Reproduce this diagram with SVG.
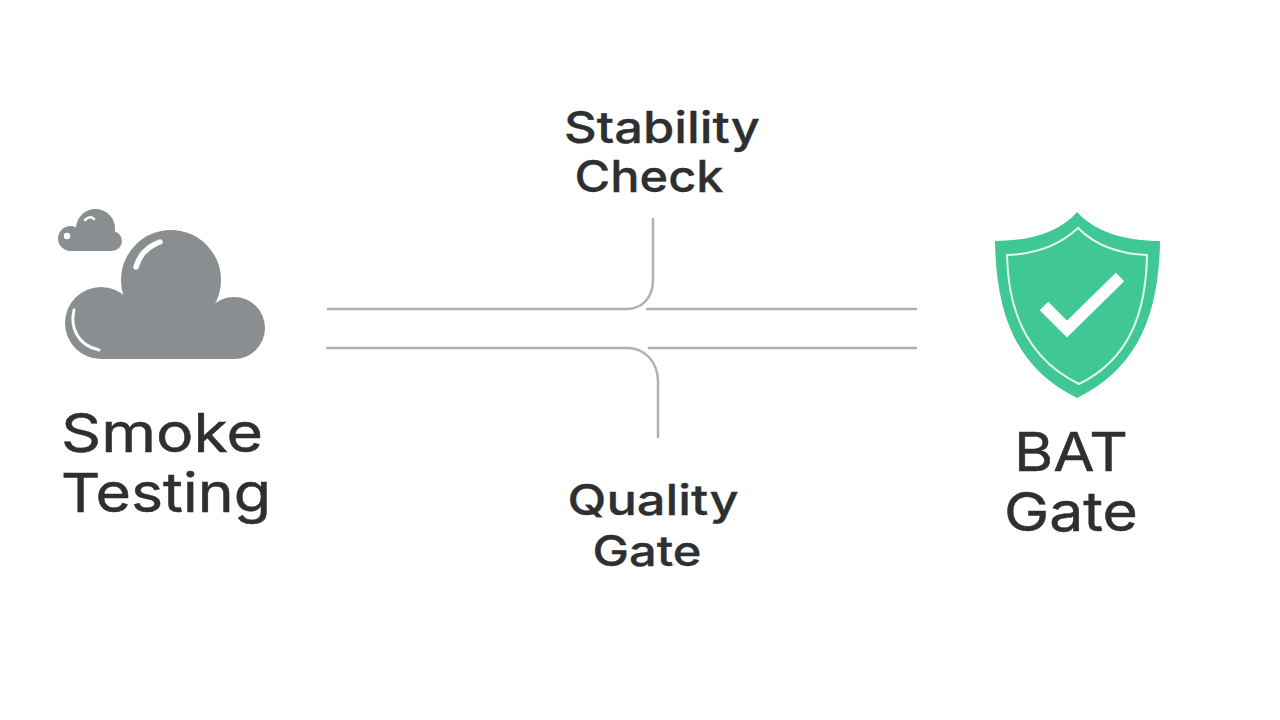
<svg xmlns="http://www.w3.org/2000/svg" width="1280" height="720" viewBox="0 0 1280 720">
<style>
.t{font-family:"Inter","Noto Sans","Liberation Sans",sans-serif;fill:#2d2f31;text-anchor:middle;font-weight:400;stroke:#2d2f31;stroke-width:.5}
.m{font-weight:500;stroke-width:.3}
.c{fill:none;stroke:#b0b0b0;stroke-width:2.500;stroke-linecap:round}
.g{fill:#8a8e90}
.h{fill:none;stroke:#fff;stroke-linecap:round}
</style>
<rect width="1280" height="720" fill="#fff"/>
<g id="connectors">
<path class="c" d="M328 309H626C642 309 653 298 653 280V219"/>
<path class="c" d="M647 309H916"/>
<path class="c" d="M327 348H627C645 348 658 362 658 382V437"/>
<path class="c" d="M649 348H916"/>
</g>
<g id="smoke-testing">
<g class="g">
<circle cx="171" cy="280" r="50"/><circle cx="101" cy="323" r="36"/><circle cx="234" cy="328" r="31"/><rect x="101" y="310" width="133" height="49"/>
<circle cx="95.500" cy="228.500" r="19.500"/><circle cx="70.500" cy="238.500" r="12.500"/><circle cx="112" cy="241" r="10"/><rect x="70" y="232" width="42" height="19"/>
</g>
<path class="h" stroke-width="3" d="M74 310C70 327 77 345 99 350"/>
<path class="h" stroke-width="5.500" stroke-dasharray="14 3" d="M136 267C140 254 148 246 160 242"/>
<path class="h" stroke-width="2.500" d="M85 220Q90 215 94 219"/>
<circle cx="67" cy="236" r="3.200" fill="#fff"/>
<text class="t" x="162" y="452" font-size="54" textLength="202" lengthAdjust="spacingAndGlyphs">Smoke</text>
<text class="t" x="166" y="512" font-size="54" textLength="210" lengthAdjust="spacingAndGlyphs">Testing</text>
</g>
<g id="stability-check">
<text class="t m" x="662" y="143" font-size="44" textLength="196" lengthAdjust="spacingAndGlyphs">Stability</text>
<text class="t m" x="649" y="192" font-size="44" textLength="149" lengthAdjust="spacingAndGlyphs">Check</text>
</g>
<g id="quality-gate">
<text class="t m" x="653" y="515" font-size="42" textLength="171" lengthAdjust="spacingAndGlyphs">Quality</text>
<text class="t m" x="647" y="566" font-size="42" textLength="109" lengthAdjust="spacingAndGlyphs">Gate</text>
</g>
<g id="bat-gate">
<path fill="#3fc796" d="M1077 212C1060 232 1030 241 995 241C996 320 1020 370 1077 398C1134 370 1159 320 1160 241C1125 241 1095 232 1077 212Z"/>
<path fill="none" stroke="#e4f8f0" stroke-width="2" d="M1078 228C1060 245 1035 254 1007 255C1008 315 1030 360 1079 384C1128 360 1146 315 1147 255C1120 254 1095 245 1078 228Z"/>
<path fill="none" stroke="#fff" stroke-width="12" stroke-linecap="butt" stroke-linejoin="miter" d="M1044 306L1067 329L1120 277"/>
<text class="t" x="1071" y="471" font-size="54" textLength="114" lengthAdjust="spacingAndGlyphs">BAT</text>
<text class="t" x="1071" y="531" font-size="54" textLength="134" lengthAdjust="spacingAndGlyphs">Gate</text>
</g>
</svg>
